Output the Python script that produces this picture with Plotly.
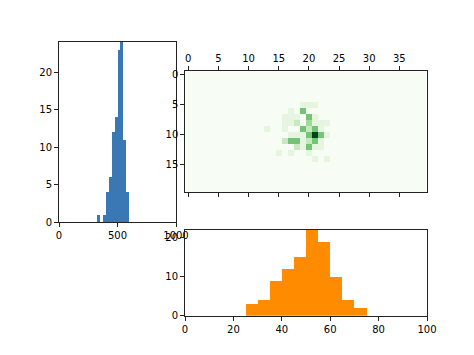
import numpy as np
import plotly.graph_objects as go

# Left histogram (blue)
left_edges = [325, 350, 375, 400, 425, 450, 475, 500, 525, 550, 575, 600]
left_counts = [1, 0, 1, 4, 6, 12, 14, 23, 24, 11, 4]

# Bottom histogram (orange)
bottom_edges = [25, 30, 35, 40, 45, 50, 55, 60, 65, 70, 75]
bottom_counts = [3, 4, 9, 12, 15, 22, 19, 10, 4, 2]

# Heatmap (20 rows x 40 cols), non-zero cells
heat_rows = [5, 5, 5, 6, 6, 7, 7, 7, 7, 7, 8, 8, 8, 8, 8, 8, 8,
             9, 9, 9, 9, 9, 9, 10, 10, 10, 10, 10, 10, 10,
             11, 11, 11, 11, 11, 11, 11, 12, 12, 12, 12, 12,
             13, 13, 13, 14, 14]
heat_cols = [19, 20, 21, 17, 19, 16, 17, 18, 20, 21, 16, 17, 18, 20, 21, 22, 23,
             13, 16, 19, 20, 21, 22, 17, 18, 19, 20, 21, 22, 23,
             16, 17, 18, 19, 20, 21, 22, 18, 19, 20, 21, 22,
             15, 17, 20, 21, 23]
heat_vals = [1, 1, 1, 1, 4, 1, 1, 1, 4, 1, 1, 1, 2, 3, 1, 1, 1,
             1, 1, 4, 2, 4, 1, 1, 1, 1, 4, 8, 4, 1,
             2, 4, 4, 1, 2, 4, 1, 2, 1, 4, 1, 1,
             1, 1, 1, 1, 1]
n_rows, n_cols = 20, 40

Z = np.zeros((n_rows, n_cols))
for r, c, v in zip(heat_rows, heat_cols, heat_vals):
    Z[r, c] = v

greens = ['#f7fcf5', '#e5f5e0', '#c7e9c0', '#a1d99b', '#74c476',
          '#41ab5d', '#238b45', '#006d2c', '#00441b']
cscale = [[i / (len(greens) - 1), col] for i, col in enumerate(greens)]

def centers(edges):
    return [(a + b) / 2 for a, b in zip(edges[:-1], edges[1:])]

def widths(edges):
    return [b - a for a, b in zip(edges[:-1], edges[1:])]

fig = go.Figure()
fig.add_trace(go.Bar(x=centers(left_edges), y=left_counts, width=widths(left_edges),
                     marker=dict(color='#3a78b5', line=dict(width=0)),
                     xaxis='x', yaxis='y', showlegend=False))
fig.add_trace(go.Heatmap(z=Z, x=list(range(n_cols)), y=list(range(n_rows)),
                         colorscale=cscale, zmin=0, zmax=Z.max(), showscale=False,
                         xaxis='x2', yaxis='y2'))
fig.add_trace(go.Bar(x=centers(bottom_edges), y=bottom_counts, width=widths(bottom_edges),
                     marker=dict(color='#ff8c00', line=dict(width=0)),
                     xaxis='x3', yaxis='y3', showlegend=False))

W, H = 474, 355
def xd(a, b):
    return [a / W, b / W]
def yd(top, bot):
    return [1 - bot / H, 1 - top / H]

axis_common = dict(showgrid=False, zeroline=False, showline=True, linecolor='#222',
                   linewidth=1, ticks='outside', ticklen=4, tickwidth=1, tickcolor='#222',
                   automargin=False,
                   tickfont=dict(family='DejaVu Sans', size=10, color='black'))

fig.update_layout(
    template='none',
    width=W, height=H, autosize=False, margin=dict(l=0, r=0, t=0, b=0, pad=0),
    paper_bgcolor='white', plot_bgcolor='white', bargap=0,
    xaxis=dict(domain=xd(59, 176), anchor='y', range=[0, 1000],
               tickvals=[0, 500, 1000], mirror=True, **axis_common),
    yaxis=dict(domain=yd(42, 222), anchor='x', range=[0, 24],
               tickvals=[0, 5, 10, 15, 20], mirror=True, **axis_common),
    xaxis2=dict(domain=xd(185.3, 426.5), anchor='y2', range=[-0.5, 39.5], side='top',
                tickvals=list(range(0, 40, 5)), mirror='ticks', **axis_common),
    yaxis2=dict(domain=yd(71.3, 191.9), anchor='x2', range=[19.5, -0.5],
                tickvals=[0, 5, 10, 15], mirror=True, **axis_common),
    xaxis3=dict(domain=xd(185, 427), anchor='y3', range=[0, 100],
                tickvals=[0, 20, 40, 60, 80, 100], mirror=True, **axis_common),
    yaxis3=dict(domain=yd(230, 315.7), anchor='x3', range=[0, 22],
                tickvals=[0, 10, 20], mirror=True, **axis_common),
)

fig.write_html("out.html", config={'responsive': False},
               default_width='474px', default_height='355px',
               post_script="document.body.style.margin='0';document.body.style.overflow='hidden';")
